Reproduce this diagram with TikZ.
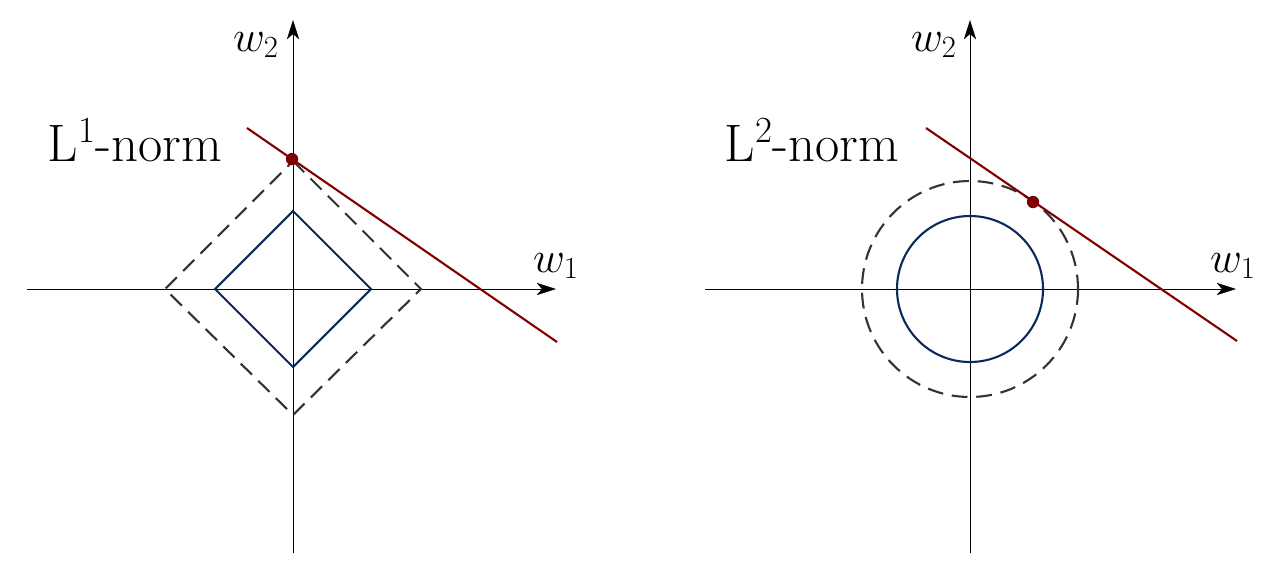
\documentclass[tikz,border=0pt]{standalone}
\usepackage{fix-cm}
\usetikzlibrary{arrows.meta}
\definecolor{navy}{HTML}{0B2A5C}
\definecolor{dred}{HTML}{800000}
\definecolor{dgray}{HTML}{333333}
\begin{document}
\begin{tikzpicture}[x=0.02cm,y=-0.02cm,
  axis/.style={line width=0.5pt,-{Stealth[length=11pt,width=7pt,inset=3pt]}},
  unitset/.style={navy,line width=1.2pt},
  levelset/.style={dgray,line width=1.2pt,dash pattern=on 9pt off 5pt},
  redline/.style={dred,line width=1.2pt},
  dot/.style={circle,fill=dred,inner sep=0pt,minimum size=7pt},
  lab/.style={font=\fontsize{25}{28}\selectfont},
  title/.style={font=\fontsize{30}{34}\selectfont}]
\useasboundingbox (0,0) rectangle (1280,576);
% left
\coordinate (ax1s) at (27,289); \coordinate (ax1e) at (556,289);
\coordinate (ay1s) at (293,553); \coordinate (ay1e) at (293,20);
\draw[axis] (ax1s) -- (ax1e);
\draw[axis] (ay1s) -- (ay1e);
\draw[unitset] (293,211) -- (371,289) -- (293,367) -- (215,289) -- cycle;
\draw[levelset] (293,161) -- (421,289) -- (293,415) -- (165,289) -- cycle;
\coordinate (r1a) at (247,128); \coordinate (r1b) at (557,342);
\draw[redline] (r1a) -- (r1b);
\node[dot] (p1) at (292,159) {};
\node[lab] (w21) at (256,45) {$w_2$};
\node[lab] (w11) at (556,266) {$w_1$};
\node[title] (t1) at (135,140) {L$^1$-norm};
% right
\coordinate (ax2s) at (705,289); \coordinate (ax2e) at (1236,289);
\coordinate (ay2s) at (970,553); \coordinate (ay2e) at (970,20);
\draw[axis] (ax2s) -- (ax2e);
\draw[axis] (ay2s) -- (ay2e);
\draw[unitset] (970,289) circle[radius=73];
\draw[levelset] (970,289) circle[radius=108];
\coordinate (r2a) at (926,128); \coordinate (r2b) at (1237,341);
\draw[redline] (r2a) -- (r2b);
\node[dot] (p2) at (1033,202) {};
\node[lab] (w22) at (934,45) {$w_2$};
\node[lab] (w12) at (1233,266) {$w_1$};
\node[title] (t2) at (812,140) {L$^2$-norm};
\end{tikzpicture}
\end{document}
